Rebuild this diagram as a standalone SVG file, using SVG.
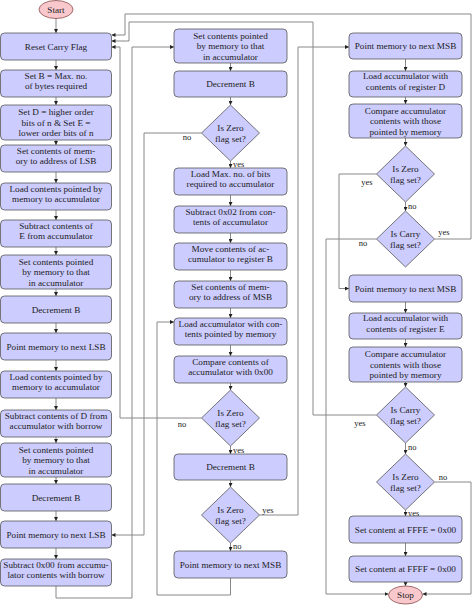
<svg xmlns="http://www.w3.org/2000/svg" width="474" height="614" viewBox="0 0 474 614">
<style>
.box{fill:#ccccff;stroke:#555;stroke-width:0.8}
.term{fill:#f8c8cc;stroke:#8a4a4a;stroke-width:0.8}
.t{font-family:"Liberation Serif",serif;font-size:9.2px;fill:#222;text-anchor:middle}
.lbl{font-family:"Liberation Serif",serif;font-size:8.5px;fill:#222}
.c{fill:none;stroke:#888;stroke-width:1;marker-end:url(#ah)}
</style>
<defs>
<marker id="ah" markerUnits="userSpaceOnUse" markerWidth="4" markerHeight="4" refX="4" refY="2" orient="auto"><path d="M0,0 L4,2 L0,4 z" fill="#222"/></marker>
</defs>
<rect width="474" height="614" fill="#fff"/>
<g id="connectors">
<path class="c" d="M56,18.5V33"/>
<path class="c" d="M56,60V70"/>
<path class="c" d="M56,97V105"/>
<path class="c" d="M56,140V145"/>
<path class="c" d="M56,172V183"/>
<path class="c" d="M56,210V220"/>
<path class="c" d="M56,247V255"/>
<path class="c" d="M56,289V296"/>
<path class="c" d="M56,323V333"/>
<path class="c" d="M56,360V371"/>
<path class="c" d="M56,398V410"/>
<path class="c" d="M56,437V443"/>
<path class="c" d="M56,477V484"/>
<path class="c" d="M56,511V521"/>
<path class="c" d="M56,548V559"/>
<path class="c" d="M56,586V598H132V47H174"/>
<path class="c" d="M201.5,133H144V535H111.5"/>
<path class="c" d="M201.5,418H120V47H111.5"/>
<path class="c" d="M230.5,63V71"/>
<path class="c" d="M230.5,97V105"/>
<path class="c" d="M230.5,161V168"/>
<path class="c" d="M230.5,195V206"/>
<path class="c" d="M230.5,233V243"/>
<path class="c" d="M230.5,270V281"/>
<path class="c" d="M230.5,308V318"/>
<path class="c" d="M230.5,345V356"/>
<path class="c" d="M230.5,383V390"/>
<path class="c" d="M230.5,446V454"/>
<path class="c" d="M230.5,480V487"/>
<path class="c" d="M230.5,543V551"/>
<path class="c" d="M230.5,578V595H157V322H174"/>
<path class="c" d="M259.5,515H298V47H349"/>
<path class="c" d="M405.5,59V71"/>
<path class="c" d="M405.5,97V104"/>
<path class="c" d="M405.5,138V146"/>
<path class="c" d="M405.5,202V211"/>
<path class="c" d="M376.5,174H339V288.5H349"/>
<path class="c" d="M434.5,239H471V14H125V35H111.5"/>
<path class="c" d="M376.5,239H326V594H388.5"/>
<path class="c" d="M405.5,302V313"/>
<path class="c" d="M405.5,339V347"/>
<path class="c" d="M405.5,382V387"/>
<path class="c" d="M376.5,415H313V22H129V41H111.5"/>
<path class="c" d="M405.5,443V454"/>
<path class="c" d="M405.5,510V516"/>
<path class="c" d="M434.5,482H471V594H422.5"/>
<path class="c" d="M405.5,543V556"/>
<path class="c" d="M405.5,582V586"/>
</g>
<g id="labels">
<text class="lbl" x="187" y="140" text-anchor="middle">no</text>
<text class="lbl" x="233" y="167">yes</text>
<text class="lbl" x="182" y="427" text-anchor="middle">no</text>
<text class="lbl" x="233" y="453">yes</text>
<text class="lbl" x="268" y="513" text-anchor="middle">yes</text>
<text class="lbl" x="233" y="549">no</text>
<text class="lbl" x="367" y="185" text-anchor="middle">yes</text>
<text class="lbl" x="408" y="209">no</text>
<text class="lbl" x="444" y="235" text-anchor="middle">yes</text>
<text class="lbl" x="363" y="246" text-anchor="middle">no</text>
<text class="lbl" x="360" y="426" text-anchor="middle">yes</text>
<text class="lbl" x="408" y="450">no</text>
<text class="lbl" x="443" y="480" text-anchor="middle">no</text>
<text class="lbl" x="408" y="516">yes</text>
</g>
<g id="start"><ellipse class="term" cx="56" cy="9.5" rx="17" ry="9"/><text class="t" x="56" y="12.7">Start</text></g>
<g id="L1"><rect class="box" x="0.5" y="33" width="111" height="27" rx="4"/><text class="t" x="56" y="49.7">Reset Carry Flag</text></g>
<g id="L2"><rect class="box" x="0.5" y="70" width="111" height="27" rx="4"/><text class="t" x="56" y="78.5">Set B = Max. no.</text><text class="t" x="56" y="89">of bytes required</text></g>
<g id="L3"><rect class="box" x="0.5" y="105" width="111" height="35" rx="4"/><text class="t" x="56" y="115.2">Set D = higher order</text><text class="t" x="56" y="125.7">bits of n &amp; Set E =</text><text class="t" x="56" y="136.2">lower order bits of n</text></g>
<g id="L4"><rect class="box" x="0.5" y="145" width="111" height="27" rx="4"/><text class="t" x="56" y="153.5">Set contents of mem-</text><text class="t" x="56" y="164">ory to address of LSB</text></g>
<g id="L5"><rect class="box" x="0.5" y="183" width="111" height="27" rx="4"/><text class="t" x="56" y="191.5">Load contents pointed by</text><text class="t" x="56" y="202">memory to accumulator</text></g>
<g id="L6"><rect class="box" x="0.5" y="220" width="111" height="27" rx="4"/><text class="t" x="56" y="228.5">Subtract contents of</text><text class="t" x="56" y="239">E from accumulator</text></g>
<g id="L7"><rect class="box" x="0.5" y="255" width="111" height="34" rx="4"/><text class="t" x="56" y="264.7">Set contents pointed</text><text class="t" x="56" y="275.2">by memory to that</text><text class="t" x="56" y="285.7">in accumulator</text></g>
<g id="L8"><rect class="box" x="0.5" y="296" width="111" height="27" rx="4"/><text class="t" x="56" y="312.7">Decrement B</text></g>
<g id="L9"><rect class="box" x="0.5" y="333" width="111" height="27" rx="4"/><text class="t" x="56" y="349.7">Point memory to next LSB</text></g>
<g id="L10"><rect class="box" x="0.5" y="371" width="111" height="27" rx="4"/><text class="t" x="56" y="379.5">Load contents pointed by</text><text class="t" x="56" y="390">memory to accumulator</text></g>
<g id="L11"><rect class="box" x="0.5" y="410" width="111" height="27" rx="4"/><text class="t" x="56" y="418.5">Subtract contents of D from</text><text class="t" x="56" y="429">accumulator with borrow</text></g>
<g id="L12"><rect class="box" x="0.5" y="443" width="111" height="34" rx="4"/><text class="t" x="56" y="452.7">Set contents pointed</text><text class="t" x="56" y="463.2">by memory to that</text><text class="t" x="56" y="473.7">in accumulator</text></g>
<g id="L13"><rect class="box" x="0.5" y="484" width="111" height="27" rx="4"/><text class="t" x="56" y="500.7">Decrement B</text></g>
<g id="L14"><rect class="box" x="0.5" y="521" width="111" height="27" rx="4"/><text class="t" x="56" y="537.7">Point memory to next LSB</text></g>
<g id="L15"><rect class="box" x="0.5" y="559" width="111" height="27" rx="4"/><text class="t" x="56" y="567.5">Subtract 0x00 from accumu-</text><text class="t" x="56" y="578">lator contents with borrow</text></g>
<g id="M1"><rect class="box" x="174" y="29" width="113" height="34" rx="4"/><text class="t" x="230.5" y="38.7">Set contents pointed</text><text class="t" x="230.5" y="49.2">by memory to that</text><text class="t" x="230.5" y="59.7">in accumulator</text></g>
<g id="M2"><rect class="box" x="174" y="71" width="113" height="26" rx="4"/><text class="t" x="230.5" y="87.2">Decrement B</text></g>
<g id="D1"><path class="box" d="M230.5,105L259.5,133L230.5,161L201.5,133Z"/><text class="t" x="230.5" y="131">Is Zero</text><text class="t" x="230.5" y="141.5">flag set?</text></g>
<g id="M3"><rect class="box" x="174" y="168" width="113" height="27" rx="4"/><text class="t" x="230.5" y="176.5">Load Max. no. of bits</text><text class="t" x="230.5" y="187">required to accumulator</text></g>
<g id="M4"><rect class="box" x="174" y="206" width="113" height="27" rx="4"/><text class="t" x="230.5" y="214.5">Subtract 0x02 from con-</text><text class="t" x="230.5" y="225">tents of accumulator</text></g>
<g id="M5"><rect class="box" x="174" y="243" width="113" height="27" rx="4"/><text class="t" x="230.5" y="251.5">Move contents of ac-</text><text class="t" x="230.5" y="262">cumulator to register B</text></g>
<g id="M6"><rect class="box" x="174" y="281" width="113" height="27" rx="4"/><text class="t" x="230.5" y="289.5">Set contents of mem-</text><text class="t" x="230.5" y="300">ory to address of MSB</text></g>
<g id="M7"><rect class="box" x="174" y="318" width="113" height="27" rx="4"/><text class="t" x="230.5" y="326.5">Load accumulator with con-</text><text class="t" x="230.5" y="337">tents pointed by memory</text></g>
<g id="M8"><rect class="box" x="174" y="356" width="113" height="27" rx="4"/><text class="t" x="230.5" y="364.5">Compare contents of</text><text class="t" x="230.5" y="375">accumulator with 0x00</text></g>
<g id="D2"><path class="box" d="M230.5,390L259.5,418L230.5,446L201.5,418Z"/><text class="t" x="230.5" y="416">Is Zero</text><text class="t" x="230.5" y="426.5">flag set?</text></g>
<g id="M9"><rect class="box" x="174" y="454" width="113" height="26" rx="4"/><text class="t" x="230.5" y="470.2">Decrement B</text></g>
<g id="D3"><path class="box" d="M230.5,487L259.5,515L230.5,543L201.5,515Z"/><text class="t" x="230.5" y="513">Is Zero</text><text class="t" x="230.5" y="523.5">flag set?</text></g>
<g id="M10"><rect class="box" x="174" y="551" width="113" height="27" rx="4"/><text class="t" x="230.5" y="567.7">Point memory to next MSB</text></g>
<g id="R1"><rect class="box" x="349" y="33" width="113" height="26" rx="4"/><text class="t" x="405.5" y="49.2">Point memory to next MSB</text></g>
<g id="R2"><rect class="box" x="349" y="71" width="113" height="26" rx="4"/><text class="t" x="405.5" y="79">Load accumulator with</text><text class="t" x="405.5" y="89.5">contents of register D</text></g>
<g id="R3"><rect class="box" x="349" y="104" width="113" height="34" rx="4"/><text class="t" x="405.5" y="113.7">Compare accumulator</text><text class="t" x="405.5" y="124.2">contents with those</text><text class="t" x="405.5" y="134.7">pointed by memory</text></g>
<g id="D4"><path class="box" d="M405.5,146L434.5,174L405.5,202L376.5,174Z"/><text class="t" x="405.5" y="172">Is Zero</text><text class="t" x="405.5" y="182.5">flag set?</text></g>
<g id="D5"><path class="box" d="M405.5,211L434.5,239L405.5,267L376.5,239Z"/><text class="t" x="405.5" y="237">Is Carry</text><text class="t" x="405.5" y="247.5">flag set?</text></g>
<g id="R4"><rect class="box" x="349" y="275" width="113" height="27" rx="4"/><text class="t" x="405.5" y="291.7">Point memory to next MSB</text></g>
<g id="R5"><rect class="box" x="349" y="313" width="113" height="26" rx="4"/><text class="t" x="405.5" y="321">Load accumulator with</text><text class="t" x="405.5" y="331.5">contents of register E</text></g>
<g id="R6"><rect class="box" x="349" y="347" width="113" height="35" rx="4"/><text class="t" x="405.5" y="357.2">Compare accumulator</text><text class="t" x="405.5" y="367.7">contents with those</text><text class="t" x="405.5" y="378.2">pointed by memory</text></g>
<g id="D6"><path class="box" d="M405.5,387L434.5,415L405.5,443L376.5,415Z"/><text class="t" x="405.5" y="413">Is Carry</text><text class="t" x="405.5" y="423.5">flag set?</text></g>
<g id="D7"><path class="box" d="M405.5,454L434.5,482L405.5,510L376.5,482Z"/><text class="t" x="405.5" y="480">Is Zero</text><text class="t" x="405.5" y="490.5">flag set?</text></g>
<g id="R7"><rect class="box" x="349" y="516" width="113" height="27" rx="4"/><text class="t" x="405.5" y="532.7">Set content at FFFE = 0x00</text></g>
<g id="R8"><rect class="box" x="349" y="556" width="113" height="26" rx="4"/><text class="t" x="405.5" y="572.2">Set content at FFFF = 0x00</text></g>
<g id="stop"><ellipse class="term" cx="405.5" cy="595" rx="17" ry="9"/><text class="t" x="405.5" y="598.2">Stop</text></g>
</svg>
